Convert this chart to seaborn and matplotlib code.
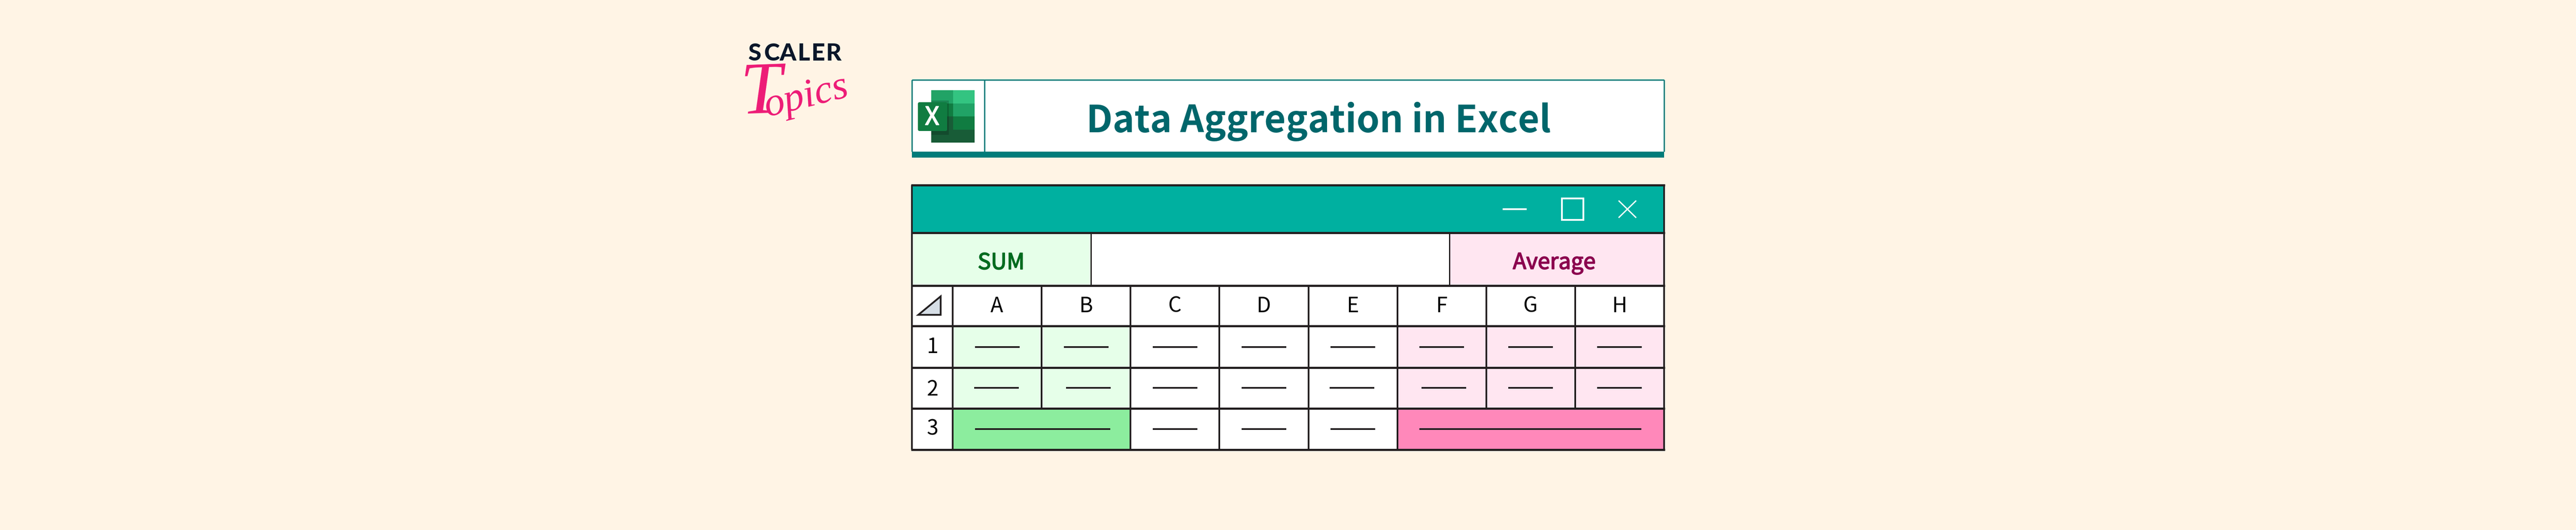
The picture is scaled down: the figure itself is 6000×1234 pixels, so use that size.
import matplotlib
matplotlib.use("Agg")
import matplotlib.pyplot as plt
import matplotlib.patheffects as pe
from matplotlib.colors import ListedColormap
from matplotlib.patches import FancyBboxPatch, Polygon, Rectangle
import numpy as np
import seaborn as sns

sns.set_theme(style="white")
plt.rcParams['font.family'] = ['Noto Sans CJK SC', 'DejaVu Sans']

# contenido de la hoja
titulo = "Data Aggregation in Excel"
etiqueta_suma = "SUM"
etiqueta_media = "Average"
columnas = ["A", "B", "C", "D", "E", "F", "G", "H"]
filas = ["1", "2", "3"]
# 0 blanco, 1 verde claro, 2 verde, 3 rosa claro, 4 rosa
tipo_celda = [
    [1, 1, 0, 0, 0, 3, 3, 3],
    [1, 1, 0, 0, 0, 3, 3, 3],
    [2, 2, 0, 0, 0, 4, 4, 4],
]
colores_celda = ["#FFFFFF", "#E6FFE9", "#8CED9E", "#FFE6F1", "#FF88BA"]

FONDO = "#FFF4E5"
TEAL = "#007C7A"
TEAL_CLARO = "#00B0A0"
LINEA = "#231F20"

# geometria en pixeles de la imagen
W, H = 6000, 1234
x_ini, x_cab, x_fin = 2124, 2219, 3876
ancho_col = (x_fin - x_cab) / len(columnas)
y_filas = [665, 759, 856, 951, 1047]
y_guiones = [808, 903, 999]
y_textos = [808, 907, 999]

fig = plt.figure(figsize=(W / 100, H / 100), dpi=100, facecolor=FONDO)

# celdas de la hoja con un heatmap
ax_hoja = fig.add_axes([x_cab / W, 1 - y_filas[-1] / H, (x_fin - x_cab) / W, (y_filas[-1] - y_filas[1]) / H])
sns.heatmap(np.array(tipo_celda), ax=ax_hoja, cmap=ListedColormap(colores_celda), vmin=0, vmax=4,
            cbar=False, xticklabels=False, yticklabels=False, linewidths=0)
ax_hoja.set_zorder(0)

ax = fig.add_axes([0, 0, 1, 1])
ax.set_xlim(0, W)
ax.set_ylim(H, 0)
ax.axis("off")
ax.patch.set_alpha(0)
ax.set_zorder(1)


def rect(x0, y0, x1, y1, color, **kw):
    ax.add_patch(Rectangle((x0, y0), x1 - x0, y1 - y0, facecolor=color, edgecolor="none", **kw))


def linea(x0, y0, x1, y1, px=4, color=LINEA):
    ax.plot([x0, x1], [y0, y1], color=color, lw=px * 0.72, solid_capstyle="butt")


def texto_medio(x, y, s, size, color):
    # no hay peso intermedio instalado: regular con un trazo fino
    t = ax.text(x, y, s, fontsize=size, color=color, ha="center", va="center")
    t.set_path_effects([pe.withStroke(linewidth=1.4, foreground=color)])


# logo
letras = ["S", "C", "A", "L", "E", "R"]
x_letras = [1758, 1797, 1835, 1872, 1906, 1942]
for letra, xl in zip(letras, x_letras):
    ax.text(xl, 125, letra, family="Lato", fontweight="black", fontsize=40, color="#0B172A", ha="center", va="center")
ax.text(1773, 222, "T", family="Liberation Serif", style="italic", fontsize=125, color="#ED1A76",
        ha="center", va="center", rotation=2)
ax.text(1878, 226, "opics", family="Liberation Serif", style="italic", fontsize=68, color="#ED1A76",
        ha="center", va="center", rotation=14)

# cabecera con el titulo
rect(x_ini, 186, x_fin, 353, "#FFFFFF")
rect(x_ini, 353, x_fin, 367, TEAL)
linea(x_ini, 186, x_fin, 186, 3, TEAL)
linea(x_ini, 186, x_ini, 353, 3, TEAL)
linea(x_fin, 186, x_fin, 353, 3, TEAL)
linea(2293, 186, 2293, 353, 3, TEAL)
ax.text(3071, 283, titulo, fontsize=62, fontweight="bold", color="#00666B", ha="center", va="center")

# icono de excel
partes = [
    (2169, 210, 2220, 241, "#21A366"), (2220, 210, 2270, 241, "#33C481"),
    (2169, 241, 2220, 271, "#107C41"), (2220, 241, 2270, 271, "#21A366"),
    (2169, 271, 2220, 302, "#185C37"), (2220, 271, 2270, 302, "#107C41"),
    (2169, 302, 2270, 332, "#185C37"),
]
for x0, y0, x1, y1, c in partes:
    rect(x0, y0, x1, y1, c)
rect(2169, 234, 2210, 314, "#000000", alpha=0.18)
ax.add_patch(FancyBboxPatch((2140, 240), 64, 63, boxstyle="round,pad=2,rounding_size=4",
                            facecolor="#107C41", edgecolor="none"))
texto_medio(2171, 274, "X", 42, "#FFFFFF")

# barra de la ventana
rect(x_ini, 431, x_fin, 542, TEAL_CLARO)
linea(3500, 487, 3556, 487, 4, "#FFFFFF")
ax.add_patch(Rectangle((3638, 462), 50, 50, facecolor="none", edgecolor="#FFFFFF", lw=3))
linea(3770, 467, 3811, 507, 3, "#FFFFFF")
linea(3770, 507, 3811, 467, 3, "#FFFFFF")

# barra de formulas
rect(x_ini, 542, 2541, 665, colores_celda[1])
rect(2541, 542, 3376, 665, "#FFFFFF")
rect(3376, 542, x_fin, 665, colores_celda[3])
texto_medio(2332, 612, etiqueta_suma, 37, "#006B1F")
texto_medio(3620, 612, etiqueta_media, 37, "#8B004E")

# cabeceras en blanco
rect(x_ini, 665, x_fin, 759, "#FFFFFF")
rect(x_ini, 759, x_cab, 1047, "#FFFFFF")
ax.add_patch(Polygon([(2191, 690), (2191, 733), (2139, 733)], closed=True, facecolor="#D6DEE6",
                     edgecolor=LINEA, lw=3))

for i, letra in enumerate(columnas):
    ax.text(x_cab + (i + 0.5) * ancho_col - 1, 713, letra, fontsize=35, color="#000000", ha="center", va="center")
for fila, yt in zip(filas, y_textos):
    ax.text(2172, yt, fila, fontsize=35, color="#000000", ha="center", va="center")

# guiones de cada celda
desvio = {(1, 0): -2, (1, 1): 5, (1, 4): -2, (1, 5): 5}
for f in range(2):
    for c in range(len(columnas)):
        xc = x_cab + (c + 0.5) * ancho_col + desvio.get((f, c), 0)
        linea(xc - 52, y_guiones[f], xc + 52, y_guiones[f], 4)
for c in [2, 3, 4]:
    xc = x_cab + (c + 0.5) * ancho_col
    linea(xc - 52, y_guiones[2], xc + 52, y_guiones[2], 4)
linea(2271, y_guiones[2], 2586, y_guiones[2], 4)
linea(3306, y_guiones[2], 3823, y_guiones[2], 4)

# rejilla
for yl in [431, 542] + y_filas:
    linea(x_ini - 2, yl, x_fin + 2, yl, 5)
linea(x_ini, 431, x_ini, 1047, 4)
linea(x_fin, 431, x_fin, 1047, 4)
linea(2541, 542, 2541, 665, 3)
linea(3376, 542, 3376, 665, 3)
linea(x_cab, 665, x_cab, 1047, 4)
for i in range(1, len(columnas)):
    xl = x_cab + i * ancho_col
    # la fila 3 tiene celdas combinadas en A-B y F-H
    yfin = 951 if columnas[i] in ("B", "G", "H") else 1047
    linea(xl, 665, xl, yfin, 4)

fig.savefig("out.png", dpi=100, facecolor=FONDO)
